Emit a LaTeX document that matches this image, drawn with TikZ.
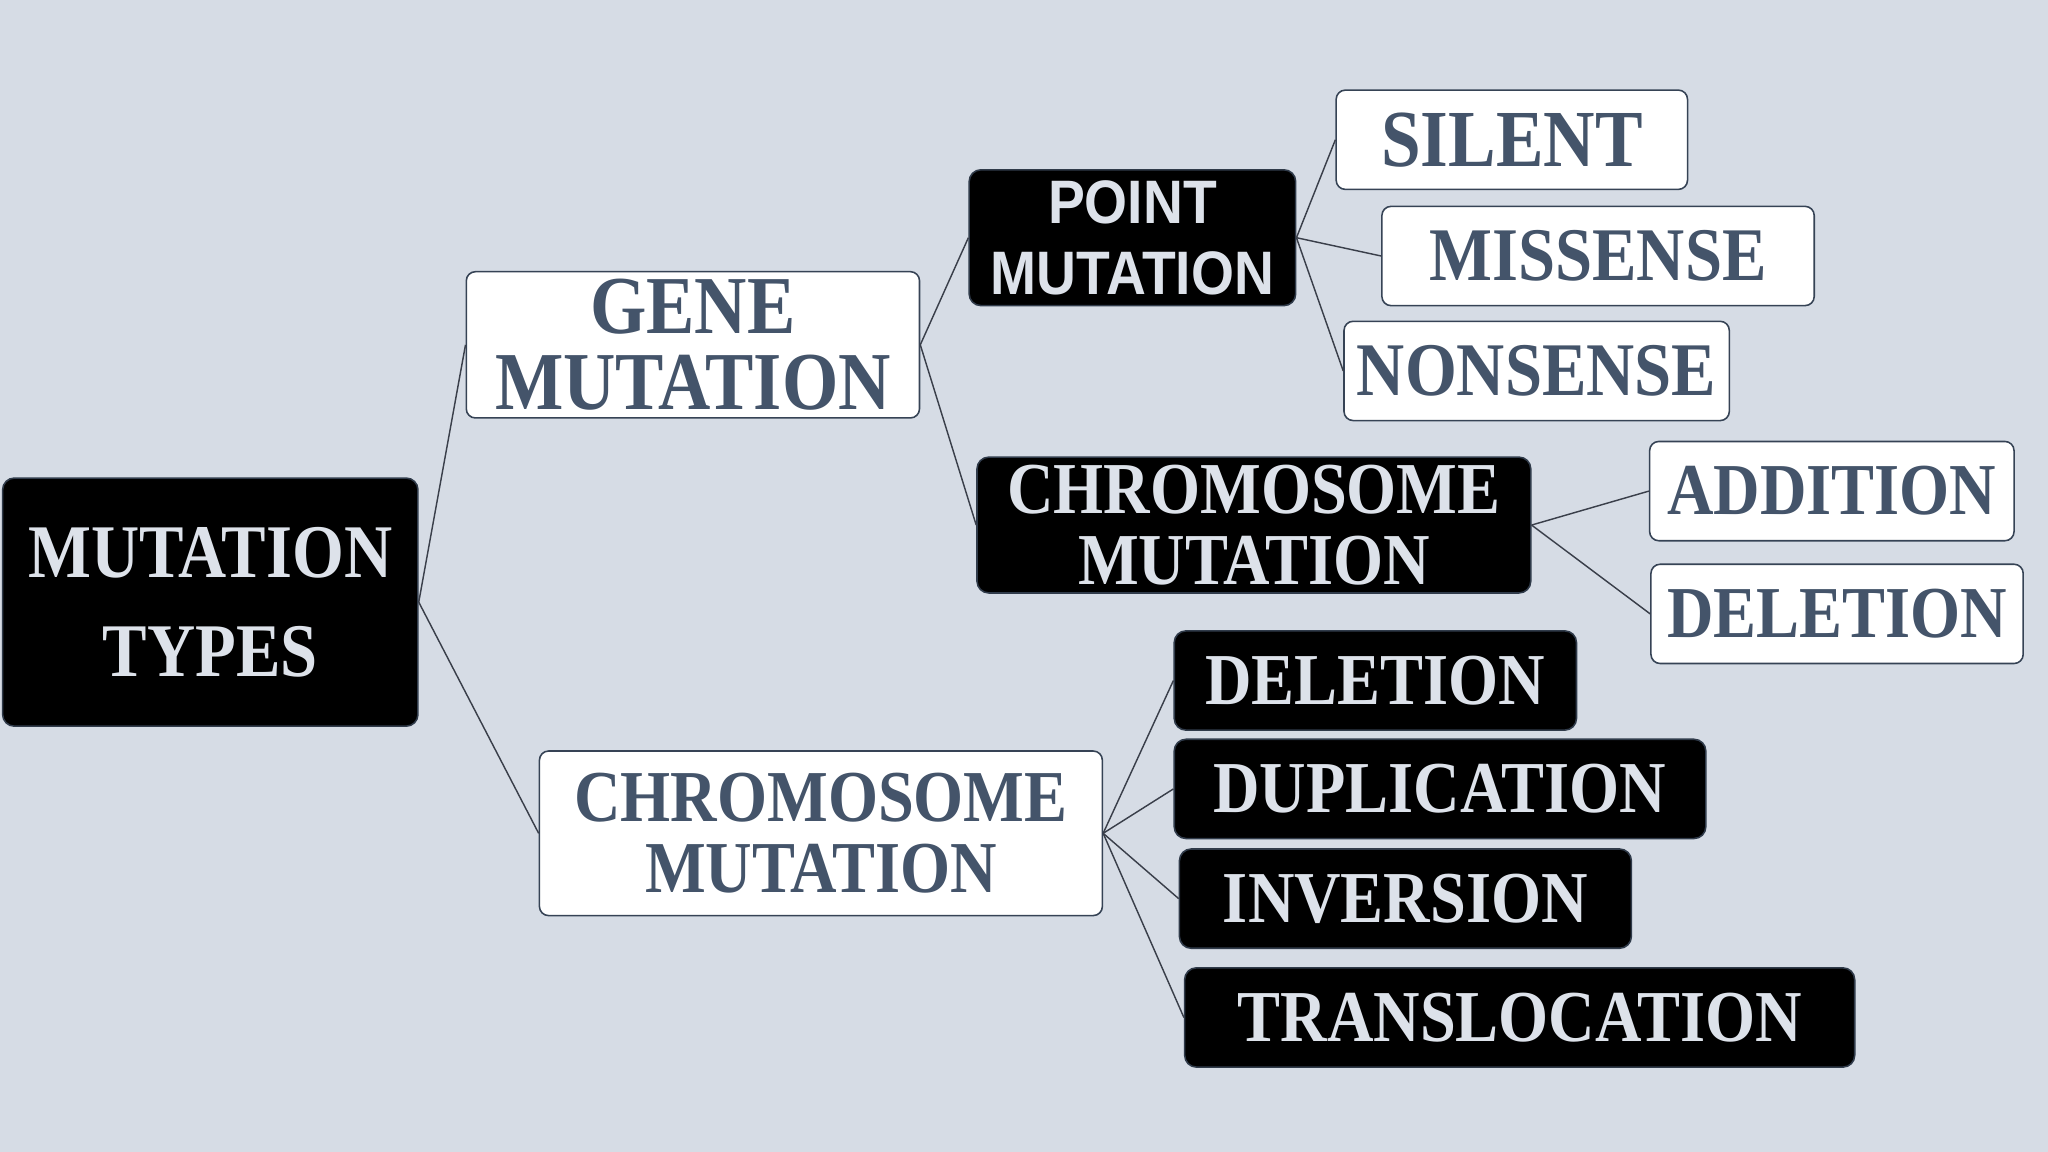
\documentclass[tikz,border=0pt]{standalone}
\usepackage{fontspec}
\newfontfamily\serb[FakeStretch=0.88]{Liberation Serif}
\newfontfamily\sanb[FakeStretch=0.90]{Liberation Sans}
\definecolor{bg}{HTML}{D6DCE5}
\definecolor{slate}{HTML}{44546A}
\definecolor{lite}{HTML}{DDE2EA}
\definecolor{ln}{HTML}{3A3F4A}
\tikzset{
 wbox/.style={draw=slate!80!black,fill=white,rounded corners=7pt,line width=1.2pt,inner sep=0pt,align=center,text=slate},
 bbox/.style={draw=slate!70!black,fill=black,rounded corners=9pt,line width=1.2pt,inner sep=0pt,align=center,text=lite},
 conn/.style={draw=ln,line width=1.1pt}
}
\newcommand{\sz}[2]{\serb\bfseries\fontsize{#1}{#2}\selectfont}
\newcommand{\bx}[8]{\node[#1,minimum width={#5-#3},minimum height={#6-#4},font=#7] (#2) at ({(#3+#5)/2},{(#4+#6)/2}) {#8};}
\begin{document}
\begin{tikzpicture}[x=1pt,y=-1pt]
\fill[bg] (0,0) rectangle (1568,882);
\useasboundingbox (0,0) rectangle (1568,882);
\bx{bbox}{mt}{2}{366}{320}{556}{\sz{58}{76}}{MUTATION\\TYPES}
\bx{wbox}{gm}{357}{208}{704}{320}{\sz{63}{58}}{GENE\\MUTATION}
\bx{bbox}{pm}{742}{130}{992}{234}{\sanb\bfseries\fontsize{47}{54}\selectfont}{POINT\\MUTATION}
\bx{wbox}{si}{1023}{69}{1292}{145}{\sz{62}{62}}{SILENT}
\bx{wbox}{mi}{1058}{158}{1389}{234}{\sz{58}{58}}{MISSENSE}
\bx{wbox}{no}{1029}{246}{1324}{322}{\sz{58}{58}}{NONSENSE}
\bx{bbox}{cm1}{748}{350}{1172}{454}{\sz{56}{54}}{CHROMOSOME\\MUTATION}
\bx{wbox}{ad}{1263}{338}{1542}{414}{\sz{56}{56}}{ADDITION}
\bx{wbox}{de1}{1264}{432}{1549}{508}{\sz{56}{56}}{DELETION}
\bx{wbox}{cm2}{413}{575}{844}{701}{\sz{56}{54}}{CHROMOSOME\\MUTATION}
\bx{bbox}{de2}{899}{483}{1207}{559}{\sz{56}{56}}{DELETION}
\bx{bbox}{du}{899}{566}{1306}{642}{\sz{56}{56}}{DUPLICATION}
\bx{bbox}{in}{903}{650}{1249}{726}{\sz{56}{56}}{INVERSION}
\bx{bbox}{tr}{907}{741}{1420}{817}{\sz{56}{56}}{TRANSLOCATION}
\draw[conn] (mt.east) -- (gm.west);
\draw[conn] (mt.east) -- (cm2.west);
\draw[conn] (gm.east) -- (pm.west);
\draw[conn] (gm.east) -- (cm1.west);
\draw[conn] (pm.east) -- (si.west);
\draw[conn] (pm.east) -- (mi.west);
\draw[conn] (pm.east) -- (no.west);
\draw[conn] (cm1.east) -- (ad.west);
\draw[conn] (cm1.east) -- (de1.west);
\draw[conn] (cm2.east) -- (de2.west);
\draw[conn] (cm2.east) -- (du.west);
\draw[conn] (cm2.east) -- (in.west);
\draw[conn] (cm2.east) -- (tr.west);
\end{tikzpicture}
\end{document}
